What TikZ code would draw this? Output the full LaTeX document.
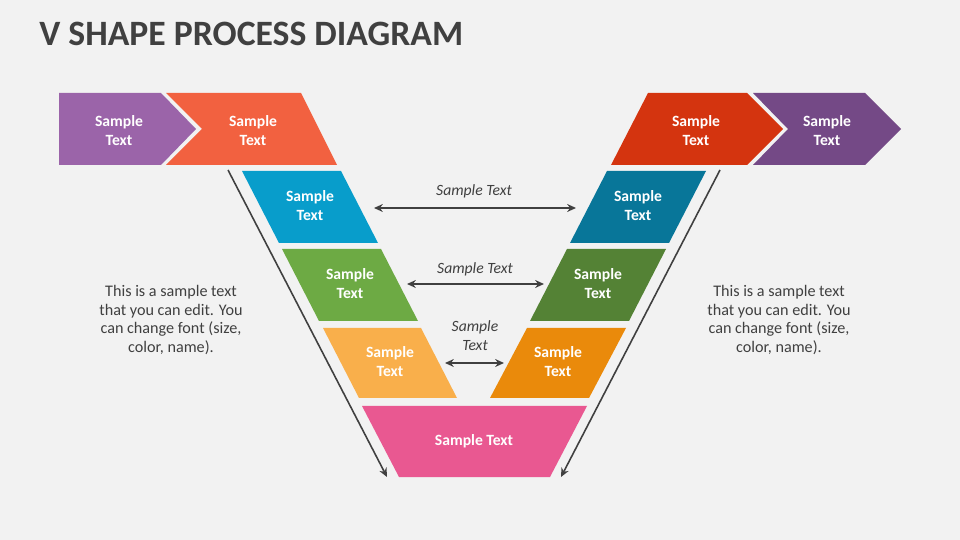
\documentclass[tikz,border=0pt]{standalone}
\usepackage{fontspec}
\setmainfont{Carlito}
\usetikzlibrary{arrows.meta}
\definecolor{bg}{HTML}{F2F2F2}
\definecolor{ink}{HTML}{404040}
\definecolor{cpurpleA}{HTML}{9B64A9}
\definecolor{corangeA}{HTML}{F26140}
\definecolor{cblue}{HTML}{089DCB}
\definecolor{cgreen}{HTML}{6DAA44}
\definecolor{cyellow}{HTML}{F9AF4B}
\definecolor{cpink}{HTML}{E95891}
\definecolor{corangeB}{HTML}{EA8A0B}
\definecolor{cgreenB}{HTML}{548235}
\definecolor{cteal}{HTML}{087699}
\definecolor{cred}{HTML}{D4340F}
\definecolor{cpurpleB}{HTML}{744986}
\tikzset{
  blocktext/.style={text=white, font=\fontsize{8.9pt}{10.8pt}\selectfont\bfseries, align=center, inner sep=0pt},
  midlabel/.style={text=ink, font=\fontsize{8.9pt}{10.8pt}\selectfont\itshape, align=center, inner sep=0pt},
  bodytext/.style={text=ink, font=\fontsize{9.2pt}{10.8pt}\selectfont, align=center, inner sep=0pt},
  linkarrow/.style={draw=ink, line width=0.9pt, {Stealth[length=5pt,width=4.5pt]}-{Stealth[length=5pt,width=4.5pt]}},
  vline/.style={draw=ink, line width=0.9pt, -{Stealth[length=5pt,width=4.5pt]}}
}
\begin{document}
\begin{tikzpicture}[x=0.02cm,y=-0.02cm]
\fill[bg] (0,0) rectangle (960,540);
\useasboundingbox (0,0) rectangle (960,540);

% title
\node[anchor=base west, inner sep=0pt, text=ink, font=\fontsize{20.3pt}{24pt}\selectfont\bfseries] (title) at (39,46) {V SHAPE PROCESS DIAGRAM};

% top row shapes
\fill[cpurpleA] (59,93) -- (161,93) -- (196,129) -- (161,165) -- (59,165) -- cycle;
\fill[corangeA] (166,93) -- (301,93) -- (337,165) -- (166,165) -- (202,129) -- cycle;
\fill[cred] (648,93) -- (747,93) -- (783,129) -- (747,165) -- (611,165) -- cycle;
\fill[cpurpleB] (753,93) -- (865,93) -- (901,129) -- (865,165) -- (753,165) -- (788,129) -- cycle;

% left stack
\fill[cblue] (242,171) -- (341,171) -- (378,243) -- (279,243) -- cycle;
\fill[cgreen] (282,249) -- (381,249) -- (418,321) -- (319,321) -- cycle;
\fill[cyellow] (323,328) -- (421,328) -- (457,398) -- (359,398) -- cycle;
% right stack
\fill[cteal] (607,171) -- (706,171) -- (669,243) -- (570,243) -- cycle;
\fill[cgreenB] (567,249) -- (666,249) -- (629,321) -- (530,321) -- cycle;
\fill[corangeB] (527,328) -- (626,328) -- (589,398) -- (490,398) -- cycle;
% bottom
\fill[cpink] (362,406) -- (587,406) -- (550,477) -- (399,477) -- cycle;

% block texts
\node[blocktext] (t1) at (119,131) {Sample\\Text};
\node[blocktext] (t2) at (253,131) {Sample\\Text};
\node[blocktext] (t3) at (696,131) {Sample\\Text};
\node[blocktext] (t4) at (827,131) {Sample\\Text};
\node[blocktext] (b1) at (310,206) {Sample\\Text};
\node[blocktext] (b2) at (350,284) {Sample\\Text};
\node[blocktext] (b3) at (390,362) {Sample\\Text};
\node[blocktext] (r1) at (638,206) {Sample\\Text};
\node[blocktext] (r2) at (598,284) {Sample\\Text};
\node[blocktext] (r3) at (558,362) {Sample\\Text};
\node[blocktext] (bot) at (474,441) {Sample Text};

% middle labels and arrows
\node[midlabel] (m1) at (474,191) {Sample Text};
\node[midlabel] (m2) at (475,269) {Sample Text};
\node[midlabel] (m3) at (475,336) {Sample\\Text};
\coordinate (a1l) at (374,208);
\coordinate (a1r) at (576,208);
\coordinate (a2l) at (407,284);
\coordinate (a2r) at (544,284);
\coordinate (a3l) at (445,363);
\coordinate (a3r) at (504,363);
\draw[linkarrow] (a1l) -- (a1r);
\draw[linkarrow] (a2l) -- (a2r);
\draw[linkarrow] (a3l) -- (a3r);

% V lines
\coordinate (vl0) at (228,170);
\coordinate (vl1) at (387,477);
\coordinate (vr0) at (720,170);
\coordinate (vr1) at (561,477);
\draw[vline] (vl0) -- (vl1);
\draw[vline] (vr0) -- (vr1);

% side texts
\node[bodytext] (pl) at (171,320) {This is a sample text\\that you can edit. You\\can change font (size,\\color, name).};
\node[bodytext] (pr) at (779,320) {This is a sample text\\that you can edit. You\\can change font (size,\\color, name).};
\end{tikzpicture}
\end{document}
